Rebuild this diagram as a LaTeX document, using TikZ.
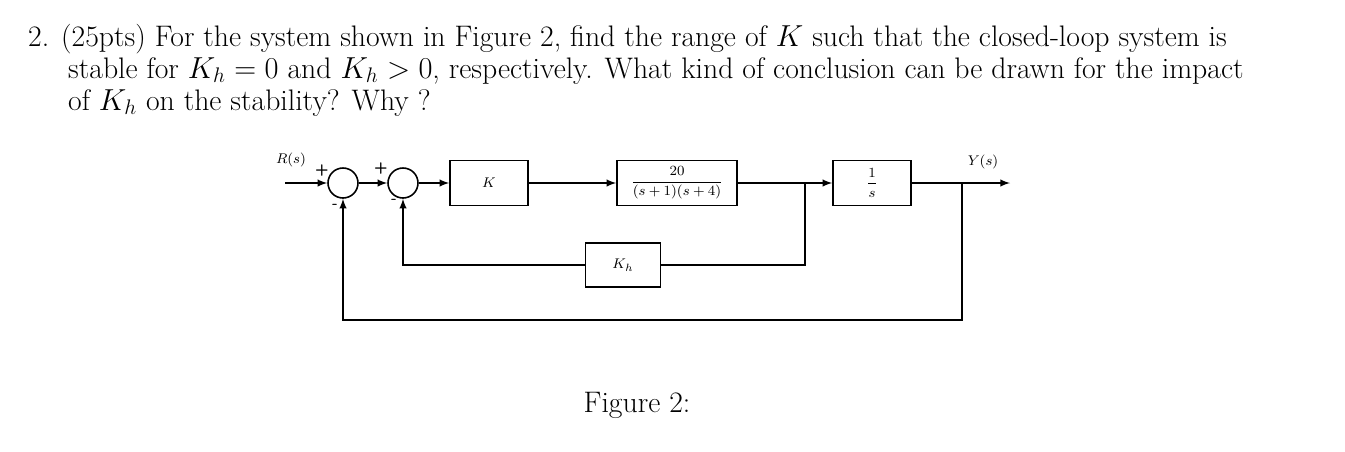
\documentclass[tikz,border=0pt]{standalone}
\usepackage{tikz}
\usepackage{amsmath}
\usetikzlibrary{arrows}
\tikzstyle{line} = [draw, -latex]

\begin{document}
\begin{tikzpicture}[x=0.02cm, y=-0.02cm,
   block/.style={draw, line width=0.9pt, minimum width=1.56cm, minimum height=0.9cm, inner sep=0pt, font=\footnotesize},
   sum/.style={circle, draw, line width=0.9pt, minimum size=0.6cm, inner sep=0pt},
   sign/.style={font=\small\sffamily\bfseries, inner sep=0pt},
   big/.style={font=\fontsize{16.9pt}{20pt}\selectfont},
   signal/.style={line width=0.9pt, -latex}, wire/.style={line width=0.9pt}]
\useasboundingbox (0,0) rectangle (1345,451);

\node[anchor=base west, big] (q1) at (22,46) {2. (25pts) For the system shown in Figure 2, find the range of $K$ such that the closed-loop system is};
\node[anchor=base west, big] (q2) at (62,78) {stable for $K_h=0$ and $K_h>0$, respectively. What kind of conclusion can be drawn for the impact};
\node[anchor=base west, big] (q3) at (62,110) {of $K_h$ on the stability? Why ?};

\node[sum] (s1) at (343,183) {};
\node[sum] (s2) at (403,183) {};
\node[block] (k) at (489,183) {$K$};
\node[block, minimum width=2.4cm] (g) at (677,183) {$\dfrac{20}{(s+1)(s+4)}$};
\node[block] (int) at (872,183) {$\dfrac{1}{s}$};
\node[block, minimum width=1.5cm, minimum height=0.88cm] (kh) at (623,265) {$K_h$};

\coordinate (in) at (285,183);
\coordinate (out) at (1010,183);
\coordinate (b1) at (805,183);
\coordinate (b2) at (962,183);
\node[font=\footnotesize] (r) at (291,160) {$R(s)$};
\node[font=\footnotesize] (y) at (983,162) {$Y(s)$};
\node[sign] (p1) at (322,171) {+};
\node[sign] (p2) at (381,169) {+};
\node[sign] (m1) at (335,206) {-};
\node[sign] (m2) at (394,201) {-};

\draw[signal] (in) -- (s1);
\draw[signal] (s1) -- (s2);
\draw[signal] (s2) -- (k);
\draw[signal] (k) -- (g);
\draw[signal] (g) -- (int);
\draw[signal] (int) -- (out);
\draw[wire] (b1) |- (kh.east);
\draw[signal] (kh.west) -| (s2.south);
\draw[signal] (b2) |- (343,320) -- (s1.south);

\node[big] (cap) at (637,405) {Figure 2:};
\end{tikzpicture}
\end{document}
